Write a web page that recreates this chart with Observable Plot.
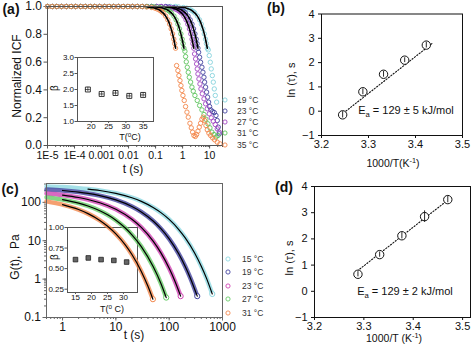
<!DOCTYPE html>
<html><head><meta charset="utf-8">
<script src="https://cdn.jsdelivr.net/npm/d3@7"></script>
<script src="https://cdn.jsdelivr.net/npm/@observablehq/plot@0.6"></script>
<style>
body{margin:0;background:#fff;}
#fig{position:relative;width:474px;height:353px;overflow:hidden;background:#fff;}
#fig svg{position:absolute;}
.sp{font-size:70%;position:relative;}
</style></head><body><div id="fig"></div>
<script>
// ---------------- Panel (a): normalized ICF vs t ----------------
const tempsA = [19, 23, 27, 31, 35];
const colorsA = ["#84d3dc", "#43439f", "#a346c3", "#5cc35c", "#f3864a"];
const tickValsA = [1e-5, 1e-4, 1e-3, 0.01, 0.1, 1, 10];
const tickLabelsA = ["1E-5", "1E-4", "0.001", "0.01", "0.1", "1", "10"];
const yTicksA = [0, 0.2, 0.4, 0.6, 0.8, 1.0];
// plateau sampling times (ICF = 1)
const tFlat = [1e-5, 1.5e-5, 2.2e-5, 3.3e-5, 5e-5, 7.5e-5, 1.1e-4, 1.7e-4, 2.5e-4, 3.8e-4, 5.6e-4, 8.5e-4, 1.3e-3, 1.9e-3, 2.8e-3, 4.2e-3, 6.3e-3, 9.5e-3, 0.014, 0.021, 0.032, 0.048, 0.072, 0.11, 0.16, 0.24, 0.36, 0.54];
// fitted (black) decay parts
const icfFit = [0.997, 0.993, 0.988, 0.981, 0.973, 0.964, 0.954, 0.931, 0.904, 0.873, 0.839, 0.803, 0.765, 0.733, 0.70];
const tFit19 = [0.705, 1.06, 1.41, 1.76, 2.12, 2.47, 2.82, 3.53, 4.23, 4.94, 5.64, 6.35, 7.05, 7.61, 8.2];
const tFit23 = [0.318, 0.477, 0.636, 0.795, 0.954, 1.11, 1.27, 1.59, 1.91, 2.23, 2.54, 2.86, 3.18, 3.43, 3.7];
const tFit27 = [0.224, 0.335, 0.447, 0.559, 0.671, 0.782, 0.894, 1.12, 1.34, 1.56, 1.79, 2.01, 2.24, 2.41, 2.6];
const tFit31 = [0.096, 0.144, 0.192, 0.24, 0.288, 0.336, 0.384, 0.48, 0.576, 0.672, 0.768, 0.864, 0.96, 1.04, 1.12];
const tFit35 = [0.047, 0.071, 0.095, 0.118, 0.142, 0.165, 0.189, 0.236, 0.284, 0.331, 0.378, 0.425, 0.473, 0.51, 0.55];
// tails beyond the fits
const tTail19 = [8.9, 9.7, 10.6, 11.5, 12.6, 13.7, 14.9, 16.2, 18.2];
const icfTail19 = [0.688, 0.647, 0.599, 0.551, 0.503, 0.456, 0.407, 0.36, 0.312];
const tTail23 = [3.92, 4.27, 4.64, 5.2, 5.66, 6.17, 6.53, 7.1, 7.74, 8.43, 9.18, 10.0, 11.2, 12.9, 14.9, 17.2, 19.2, 20.9, 22.8];
const icfTail23 = [0.671, 0.635, 0.599, 0.563, 0.527, 0.491, 0.456, 0.42, 0.384, 0.348, 0.312, 0.28, 0.256, 0.244, 0.237, 0.216, 0.18, 0.132, 0.084];
const tTail27 = [2.78, 3.03, 3.3, 3.49, 3.7, 4.03, 4.39, 4.78, 5.35, 6.2, 7.1, 8.2, 9.7, 11.5, 13.7, 16.2, 19.2, 22.8];
const icfTail27 = [0.659, 0.623, 0.587, 0.551, 0.515, 0.479, 0.443, 0.407, 0.372, 0.336, 0.3, 0.264, 0.228, 0.199, 0.175, 0.151, 0.12, 0.096];
const tTail31 = [1.22, 1.29, 1.37, 1.49, 1.62, 1.77, 1.98, 2.22, 2.48, 2.86, 3.49, 4.27, 5.2, 6.2, 7.3, 8.7, 10.3, 12.2, 14.5, 17.2, 20.4];
const icfTail31 = [0.678, 0.64, 0.602, 0.563, 0.527, 0.491, 0.456, 0.42, 0.391, 0.36, 0.324, 0.288, 0.256, 0.223, 0.189, 0.156, 0.127, 0.096, 0.079, 0.06, 0.072];
const tTail35 = [0.6, 0.67, 0.73, 0.8, 0.87, 0.94, 1.03, 1.15, 1.29, 1.45, 1.62, 1.87, 2.1, 2.35, 2.63, 2.95, 3.3, 3.7, 4.14, 4.64, 5.2, 5.82, 6.53, 7.31, 8.2, 9.4, 10.9, 12.9, 15.3, 19.2, 24.2];
const icfTail35 = [0.575, 0.539, 0.503, 0.467, 0.431, 0.396, 0.36, 0.324, 0.28, 0.24, 0.204, 0.16, 0.127, 0.096, 0.072, 0.065, 0.079, 0.103, 0.132, 0.16, 0.189, 0.204, 0.18, 0.144, 0.113, 0.089, 0.072, 0.055, 0.041, 0.024, 0.012];
// inset (a): beta vs T
const insetTA = [19, 23, 27, 31, 35];
const insetBetaA = [2.0, 1.86, 1.89, 1.80, 1.83];

// ---------------- Panel (b) ----------------
const invTB = [3.245, 3.288, 3.332, 3.377, 3.423];
const lnTauB = [-0.15, 0.80, 1.52, 2.10, 2.72];
const errB = [0.13, 0.12, 0.12, 0.1, 0.12];
const fitBx = [3.247, 3.437];
const fitBy = [-0.07, 2.81];

// ---------------- Panel (c): G(t) ----------------
const tempsC = [15, 19, 23, 27, 31];
const colorsC = ["#8fd9e2", "#43439f", "#d043b3", "#66cc66", "#f3884e"];
const tC15 = [0.5, 1, 2, 3, 5, 10, 20, 30, 50, 70, 100, 150, 200, 300, 400, 500, 643];
const gC15 = [260, 250, 234, 222, 204, 172, 132, 106, 73.6, 54.0, 35.9, 19.9, 11.9, 4.81, 2.17, 1.06, 0.41];
const tC19 = [0.5, 1, 2, 3, 5, 10, 20, 30, 50, 70, 100, 150, 200, 250, 336];
const gC19 = [217, 204, 185, 171, 150, 116, 78.1, 56.4, 32.8, 20.6, 11.2, 4.63, 2.14, 1.06, 0.36];
const tC23 = [0.5, 1, 2, 3, 5, 10, 20, 30, 50, 70, 100, 130, 164];
const gC23 = [170, 155, 134, 119, 97.6, 66.0, 36.2, 22.2, 9.74, 4.83, 1.91, 0.84, 0.36];
const tC27 = [0.5, 1, 2, 3, 5, 7, 10, 15, 20, 30, 50, 70, 88];
const gC27 = [135, 118, 95.6, 80.6, 60.5, 47.3, 34.3, 21.5, 14.3, 7.03, 2.12, 0.77, 0.33];
const tC31 = [0.5, 1, 2, 3, 5, 7, 10, 15, 20, 30, 40, 49.5];
const gC31 = [106, 87.4, 65.0, 50.9, 33.9, 23.9, 15.1, 7.83, 4.39, 1.59, 0.65, 0.30];
const fitStartC = [3, 0.7, 0.7, 1, 1];
const xTicksC = [1, 10, 100, 1000];
const yTicksC = [0.1, 1, 10, 100];
// inset (c)
const insetTC = [15, 19, 23, 27, 31];
const insetBetaC = [0.61, 0.63, 0.61, 0.60, 0.58];

// ---------------- Panel (d) ----------------
const invTD = [3.288, 3.332, 3.377, 3.423, 3.470];
const lnTauD = [0.65, 1.40, 2.12, 2.85, 3.50];
const errD = [0.1, 0.1, 0.12, 0.22, 0.12];
const fitDx = [3.287, 3.478];
const fitDy = [0.78, 3.6];

// =================================================================
const fig = document.getElementById("fig");
const FONT = "'Liberation Sans', Arial, Helvetica, sans-serif";
function put(svg, left, top) { svg.style.left = left + "px"; svg.style.top = top + "px"; fig.appendChild(svg); }
function label(html, x, y, o = {}) {
  const d = document.createElement("div");
  d.innerHTML = html;
  const tr = o.left ? "translate(0,-50%)" : "translate(-50%,-50%)";
  d.style.cssText = `position:absolute;left:${x}px;top:${y}px;white-space:nowrap;font-family:${FONT};font-size:${o.size || 12}px;line-height:1;color:${o.color || "#111"};font-weight:${o.bold ? "bold" : "normal"};transform:${tr}${o.rot ? " rotate(" + o.rot + "deg)" : ""};`;
  fig.appendChild(d);
}
const st = (fs) => ({fontFamily: FONT, fontSize: fs + "px", color: "#111", background: "none", overflow: "visible"});
const fmtInt = d3.format("d");

// ---- (a) ----
const fitsA = [tFit19, tFit23, tFit27, tFit31, tFit35];
const tailsT = [tTail19, tTail23, tTail27, tTail31, tTail35];
const tailsV = [icfTail19, icfTail23, icfTail27, icfTail31, icfTail35];
const seriesA = tempsA.map((T, i) => {
  const fit = fitsA[i].map((t, j) => ({t, v: icfFit[j]}));
  const flat = tFlat.filter(t => t < fitsA[i][0] / 1.2).map(t => ({t, v: 1}));
  const tail = tailsT[i].map((t, j) => ({t, v: tailsV[i][j]}));
  return {T, color: colorsA[i], pts: [...flat, ...fit, ...tail], fit};
});
const plotA = Plot.plot({
  width: 240, height: 178, marginLeft: 47, marginRight: 18, marginTop: 6, marginBottom: 33,
  style: st(12),
  x: {type: "log", domain: [1e-5, 30]},
  y: {domain: [0, 1.0]},
  marks: [
    Plot.axisX({ticks: 60, tickSize: 2, tickFormat: () => "", label: null, stroke: "#555"}),
    Plot.axisX({ticks: tickValsA, tickFormat: d => tickLabelsA[tickValsA.indexOf(d)], tickSize: 3.5, tickPadding: 2.5, label: null, stroke: "#555", fontSize: 10.5}),
    Plot.axisY({ticks: yTicksA, tickFormat: d3.format(".1f"), tickSize: 3.5, tickPadding: 2, label: null, stroke: "#555"}),
    ...seriesA.map(s => Plot.dot(s.pts, {x: "t", y: "v", r: 2.2, stroke: s.color, strokeWidth: 0.9, fill: "none"})),
    ...seriesA.map(s => Plot.line(s.fit, {x: "t", y: "v", stroke: "#000", strokeWidth: 1.6, curve: "monotone-x"})),
    Plot.frame({stroke: "#555"})
  ]
});
put(plotA, 0, 0);

// inset (a)
const insA = insetTA.map((T, i) => ({T, b: insetBetaA[i]}));
const plotAi = Plot.plot({
  width: 120, height: 95, marginLeft: 37, marginRight: 7, marginTop: 7, marginBottom: 24,
  style: st(8),
  x: {domain: [16, 38]}, y: {domain: [1, 3]},
  marks: [
    Plot.frame({fill: "#fff", stroke: "#555"}),
    Plot.axisX({ticks: [20, 25, 30, 35], tickSize: 2, tickPadding: 0, label: null, stroke: "#555"}),
    Plot.axisY({ticks: [1, 1.5, 2, 2.5, 3], tickFormat: d3.format(".1f"), tickSize: 2.5, tickPadding: 1, label: null, stroke: "#555"}),
    Plot.ruleX(insA, {x: "T", y1: d => d.b - 0.07, y2: d => d.b + 0.07, stroke: "#333", strokeWidth: 0.8}),
    Plot.ruleY(insA, {y: "b", x1: d => d.T - 0.7, x2: d => d.T + 0.7, stroke: "#333", strokeWidth: 0.8}),
    Plot.dot(insA, {x: "T", y: "b", symbol: "square", r: 2.8, stroke: "#222", strokeWidth: 0.9, fill: "none"})
  ]
});
put(plotAi, 40, 50);

// ---- (b) ----
const dataB = invTB.map((x, i) => ({x, y: lnTauB[i], e: errB[i]}));
const fitB = fitBx.map((x, i) => ({x, y: fitBy[i]}));
const plotB = Plot.plot({
  width: 234, height: 178, marginLeft: 81, marginRight: 12, marginTop: 13.5, marginBottom: 43,
  style: st(11),
  x: {domain: [3.2, 3.5]}, y: {domain: [-1, 4]},
  marks: [
    Plot.axisX({ticks: [3.2, 3.3, 3.4, 3.5], tickFormat: d3.format(".1f"), tickSize: 3, tickPadding: 2, label: null}),
    Plot.axisY({ticks: [-1, 0, 1, 2, 3, 4], tickFormat: fmtInt, tickSize: 3, tickPadding: 4, label: null}),
    Plot.line(fitB, {x: "x", y: "y", stroke: "#111", strokeWidth: 1.1, strokeDasharray: "1.2,1.8"}),
    Plot.dot(dataB, {x: "x", y: "y", r: 4.2, stroke: "#111", strokeWidth: 1, fill: "#fff"}),
    Plot.ruleX(dataB, {x: "x", y1: d => d.y - d.e, y2: d => d.y + d.e, stroke: "#111", strokeWidth: 0.9}),
    Plot.frame({stroke: "#111"})
  ]
});
put(plotB, 240, 0);

// ---- (c) ----
const tsC = [tC15, tC19, tC23, tC27, tC31];
const gsC = [gC15, gC19, gC23, gC27, gC31];
const seriesC = tempsC.map((T, i) => {
  const pts = tsC[i].map((t, j) => ({t, g: gsC[i][j]}));
  return {T, color: colorsC[i], pts, fit: pts.filter(p => p.t >= fitStartC[i]), last: [pts[pts.length - 1]]};
});
// inset (c) drawn first (transparent), curves pass over it
const insC = insetTC.map((T, i) => ({T, b: insetBetaC[i]}));
const plotCi = Plot.plot({
  width: 115, height: 95, marginLeft: 37, marginRight: 8, marginTop: 7, marginBottom: 23,
  style: st(8),
  x: {domain: [12.5, 34.4]}, y: {domain: [0.21, 1.0]},
  marks: [
    Plot.frame({stroke: "#555"}),
    Plot.axisX({ticks: [15, 20, 25, 30], tickSize: 2, tickPadding: 0, label: null, stroke: "#555"}),
    Plot.axisY({ticks: [0.25, 0.5, 0.75, 1.0], tickFormat: d3.format(".2f"), tickSize: 2.5, tickPadding: 1, label: null, stroke: "#555"}),
    Plot.dot(insC, {x: "T", y: "b", symbol: "square", r: 2.6, stroke: "#222", strokeWidth: 0.8, fill: "#666"})
  ]
});
const plotC = Plot.plot({
  width: 240, height: 183, marginLeft: 46, marginRight: 18, marginTop: 13, marginBottom: 36,
  style: st(12),
  x: {type: "log", domain: [0.5, 1000]},
  y: {type: "log", domain: [0.1, 310]},
  marks: [
    Plot.axisX({ticks: 40, tickSize: 2, tickFormat: () => "", label: null, stroke: "#666"}),
    Plot.axisX({ticks: xTicksC, tickFormat: fmtInt, tickSize: 3.5, tickPadding: 1, label: null, stroke: "#666"}),
    Plot.axisY({ticks: 40, tickSize: 2, tickFormat: () => "", label: null, stroke: "#666"}),
    Plot.axisY({ticks: yTicksC, tickFormat: d => d < 1 ? "0.1" : String(d), tickSize: 3.5, tickPadding: 2, label: null, stroke: "#666"}),
    ...seriesC.map(s => Plot.line(s.pts, {x: "t", y: "g", stroke: s.color, strokeWidth: 4.5, strokeOpacity: 0.8, curve: "monotone-x"})),
    ...seriesC.map(s => Plot.dot(s.last, {x: "t", y: "g", r: 2.6, stroke: s.color, strokeWidth: 1, fill: "#fff"})),
    ...seriesC.map(s => Plot.line(s.fit, {x: "t", y: "g", stroke: "#000", strokeWidth: 1.2, curve: "monotone-x"})),
    Plot.frame({stroke: "#666"})
  ]
});
put(plotCi, 30, 220);
put(plotC, 0, 170);

// ---- (d) ----
const dataD = invTD.map((x, i) => ({x, y: lnTauD[i], e: errD[i]}));
const fitD = fitDx.map((x, i) => ({x, y: fitDy[i]}));
const plotD = Plot.plot({
  width: 234, height: 183, marginLeft: 74, marginRight: 4, marginTop: 16, marginBottom: 36,
  style: st(11),
  x: {domain: [3.2, 3.516]}, y: {domain: [-1, 4]},
  marks: [
    Plot.axisX({ticks: [3.2, 3.3, 3.4, 3.5], tickFormat: d3.format(".1f"), tickSize: 3, tickPadding: 2, label: null}),
    Plot.axisY({ticks: [-1, 0, 1, 2, 3, 4], tickFormat: fmtInt, tickSize: 3, tickPadding: 4, label: null}),
    Plot.line(fitD, {x: "x", y: "y", stroke: "#111", strokeWidth: 1.1, strokeDasharray: "1.2,1.8"}),
    Plot.dot(dataD, {x: "x", y: "y", r: 4.2, stroke: "#111", strokeWidth: 1, fill: "#fff"}),
    Plot.ruleX(dataD, {x: "x", y1: d => d.y - d.e, y2: d => d.y + d.e, stroke: "#111", strokeWidth: 0.9}),
    Plot.frame({stroke: "#111"})
  ]
});
put(plotD, 240, 170);

// ---- legends ----
function legend(temps, colors, cx, ys, tx) {
  const s = document.createElementNS("http://www.w3.org/2000/svg", "svg");
  s.setAttribute("width", 12); s.setAttribute("height", 80);
  s.style.left = (cx - 6) + "px"; s.style.top = (ys[0] - 6) + "px";
  s.innerHTML = temps.map((T, i) => `<circle cx="6" cy="${ys[i] - ys[0] + 6}" r="2.1" fill="none" stroke="${colors[i]}" stroke-width="0.9"/>`).join("");
  fig.appendChild(s);
  temps.forEach((T, i) => label(`${T} °C`, tx, ys[i], {left: true, size: 8.5, color: "#333"}));
}
legend(tempsA, colorsA, 225, [100, 111, 122, 133, 145], 237);
legend(tempsC, colorsC, 228, [259, 272, 286, 299, 313], 242);

// ---- text labels ----
label("(a)", 11, 9, {bold: true, size: 14});
label("(b)", 276, 8, {bold: true, size: 14});
label("(c)", 10, 189, {bold: true, size: 14});
label("(d)", 284, 187, {bold: true, size: 14});
label("Normalized ICF", 17, 76, {rot: -90, size: 12});
label("t (s)", 133, 169, {size: 12});
label("G(t),&nbsp; Pa", 15, 257, {rot: -90, size: 12});
label("t (s)", 134, 335, {size: 12});
label("ln (τ), s", 291, 80, {rot: -90, size: 11});
label("1000/T(K<span class='sp' style='top:-4px'>-1</span>)", 393, 163, {size: 10.5});
label("ln (τ), s", 289, 258, {rot: -90, size: 11});
label("1000/T (K<span class='sp' style='top:-4px'>-1</span>)", 394, 338, {size: 10.5});
label("E<span class='sp' style='top:3px'>a</span> = 129 ± 5 kJ/mol", 406, 110, {size: 11});
label("E<span class='sp' style='top:3px'>a</span> = 129 ± 2 kJ/mol", 405, 291, {size: 11});
label("β", 55, 88, {rot: -90, size: 10});
label("T(<span class='sp' style='top:-3px'>o</span>C)", 130, 137, {size: 9});
label("β", 55, 257, {rot: -90, size: 10});
label("T(<span class='sp' style='top:-3px'>o</span> C)", 112, 309, {size: 9});
</script></body></html>
